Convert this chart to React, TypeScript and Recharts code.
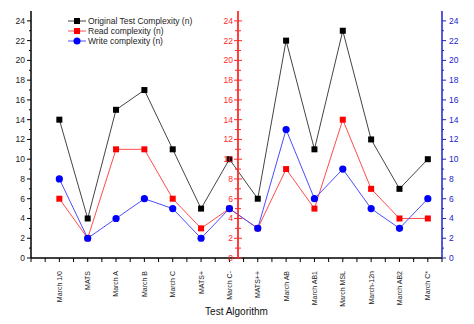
import { Legend, Line, LineChart, XAxis, YAxis } from 'recharts';

const categories = [
  'March 1/0', 'MATS', 'March A', 'March B', 'March C', 'MATS+', 'March C-',
  'MATS++', 'March AB', 'March AB1', 'March MSL', 'March-12n', 'March AB2', 'March C*',
];
const originalComplexity = [14, 4, 15, 17, 11, 5, 10, 6, 22, 11, 23, 12, 7, 10];
const readComplexity = [6, 2, 11, 11, 6, 3, 5, 3, 9, 5, 14, 7, 4, 4];
const writeComplexity = [8, 2, 4, 6, 5, 2, 5, 3, 13, 6, 9, 5, 3, 6];

const yTicks = Array.from({ length: 25 }, (_, i) => i);
const xTicks = Array.from({ length: 30 }, (_, i) => i / 2);

const data = categories.map((name, i) => ({
  x: i + 1,
  name,
  original: originalComplexity[i],
  read: readComplexity[i],
  write: writeComplexity[i],
}));

const FONT = '"Liberation Sans", Arial, sans-serif';
const RED = '#ff2a2a';
const BLUE = '#2323cc';

const LeftTick = (props: any) => {
  const { x, y, payload } = props;
  const major = payload.value % 2 === 0;
  return (
    <g>
      <line x1={x - (major ? 4 : 2)} x2={x} y1={y} y2={y} stroke="#000" strokeWidth={1} />
      {major && (
        <text x={x - 6} y={y} dy="0.35em" textAnchor="end" fontSize={8.5} fill="#222" fontFamily={FONT}>
          {payload.value}
        </text>
      )}
    </g>
  );
};

const RightTick = (props: any) => {
  const { x, y, payload } = props;
  const major = payload.value % 2 === 0;
  return (
    <g>
      <line x1={x} x2={x + (major ? 4 : 2)} y1={y} y2={y} stroke={BLUE} strokeWidth={1} />
      {major && (
        <text x={x + 7} y={y} dy="0.35em" textAnchor="start" fontSize={8.5} fill={BLUE} fontFamily={FONT}>
          {payload.value}
        </text>
      )}
    </g>
  );
};

const MidTick = (props: any) => {
  const { x, y, payload } = props;
  const major = payload.value % 2 === 0;
  return (
    <g>
      <line x1={x - (major ? 4 : 3)} x2={x + (major ? 4 : 3)} y1={y} y2={y} stroke={RED} strokeWidth={1} />
      {major && (
        <text x={x - 5} y={y} dy="0.35em" textAnchor="end" fontSize={8.5} fill={RED} fontFamily={FONT}>
          {payload.value}
        </text>
      )}
    </g>
  );
};

const BottomTick = (props: any) => {
  const { x, y, payload } = props;
  const v = payload.value;
  const label = Number.isInteger(v) && v >= 1 ? categories[v - 1] : '';
  return (
    <g>
      <line x1={x} x2={x} y1={y} y2={y + 4} stroke="#000" strokeWidth={1} />
      {label && (
        <text
          transform={`translate(${x},${y + 13}) rotate(-90)`}
          dy="0.35em"
          textAnchor="end"
          fontSize={7}
          fill="#222"
          fontFamily={FONT}
        >
          {label}
        </text>
      )}
    </g>
  );
};

const Square = (color: string) => (props: any) => {
  const { cx, cy, index } = props;
  return <rect key={`sq-${color}-${index}`} x={cx - 3} y={cy - 3} width={6} height={6} fill={color} />;
};

const Circle = (color: string) => (props: any) => {
  const { cx, cy, index } = props;
  return <circle key={`c-${color}-${index}`} cx={cx} cy={cy} r={3.6} fill={color} />;
};

const legendItems = [
  { label: 'Original Test Complexity (n)', line: '#444', fill: '#000', shape: 'square' },
  { label: 'Read complexity (n)', line: '#ff4d4d', fill: '#ff0000', shape: 'square' },
  { label: 'Write complexity (n)', line: '#4d4dff', fill: '#0000ff', shape: 'circle' },
];

const renderLegend = () => (
  <div style={{ fontFamily: FONT, fontSize: 8.5, color: '#222' }}>
    {legendItems.map((item) => (
      <div key={item.label} style={{ display: 'flex', alignItems: 'center', height: 10 }}>
        <svg width={20} height={10}>
          <line x1={0} x2={18} y1={5} y2={5} stroke={item.line} strokeWidth={1} />
          {item.shape === 'square' ? (
            <rect x={6} y={2} width={6} height={6} fill={item.fill} />
          ) : (
            <circle cx={9} cy={5} r={3.5} fill={item.fill} />
          )}
        </svg>
        <span>{item.label}</span>
      </div>
    ))}
  </div>
);

export default function App() {
  return (
    <div style={{ position: 'absolute', left: 0, top: 0, width: 474, height: 324, background: '#fff' }}>
      <div style={{ position: 'absolute', left: 0, top: 0 }}>
        <LineChart width={474} height={324} data={data} margin={{ top: 11, right: 0, bottom: 0, left: 0 }}>
          <XAxis
            dataKey="x"
            type="number"
            domain={[0, 14.5]}
            ticks={xTicks}
            interval={0}
            height={66}
            tickSize={0}
            tickMargin={0}
            tickLine={false}
            axisLine={{ stroke: '#000', strokeWidth: 1.5 }}
            tick={BottomTick}
            label={{ value: 'Test Algorithm', position: 'insideBottom', offset: 9, fontSize: 10, fill: '#111', fontFamily: FONT }}
          />
          <YAxis
            yAxisId="left"
            width={31}
            domain={[0, 25]}
            ticks={yTicks}
            interval={0}
            tickSize={0}
            tickMargin={0}
            tickLine={false}
            axisLine={{ stroke: '#000', strokeWidth: 1.5 }}
            tick={LeftTick}
          />
          <YAxis
            yAxisId="right"
            orientation="right"
            width={32}
            domain={[0, 25]}
            ticks={yTicks}
            interval={0}
            tickSize={0}
            tickMargin={0}
            tickLine={false}
            axisLine={{ stroke: BLUE, strokeWidth: 1.5 }}
            tick={RightTick}
          />
          <Legend
            content={renderLegend}
            layout="vertical"
            verticalAlign="middle"
            align="center"
            wrapperStyle={{ left: 68, top: 16, width: 'auto' }}
          />
          <Line yAxisId="left" dataKey="original" stroke="#444" strokeWidth={1} dot={Square('#000')} isAnimationActive={false} />
          <Line yAxisId="left" dataKey="read" stroke="#ff4d4d" strokeWidth={1} dot={Square('#ff0000')} isAnimationActive={false} />
          <Line yAxisId="right" dataKey="write" stroke="#4d4dff" strokeWidth={1} dot={Circle('#0000ff')} isAnimationActive={false} />
        </LineChart>
      </div>
      <div style={{ position: 'absolute', left: 0, top: 0, pointerEvents: 'none' }}>
        <LineChart width={474} height={324} data={data} margin={{ top: 11, right: 0, bottom: 66, left: 0 }}>
          <XAxis dataKey="x" type="number" domain={[0, 14.5]} hide />
          <YAxis
            width={238}
            domain={[0, 25]}
            ticks={yTicks}
            interval={0}
            tickSize={0}
            tickMargin={0}
            tickLine={false}
            axisLine={{ stroke: RED, strokeWidth: 1.8 }}
            tick={MidTick}
          />
          <Line dataKey="read" stroke="none" dot={false} activeDot={false} legendType="none" isAnimationActive={false} />
        </LineChart>
      </div>
    </div>
  );
}
